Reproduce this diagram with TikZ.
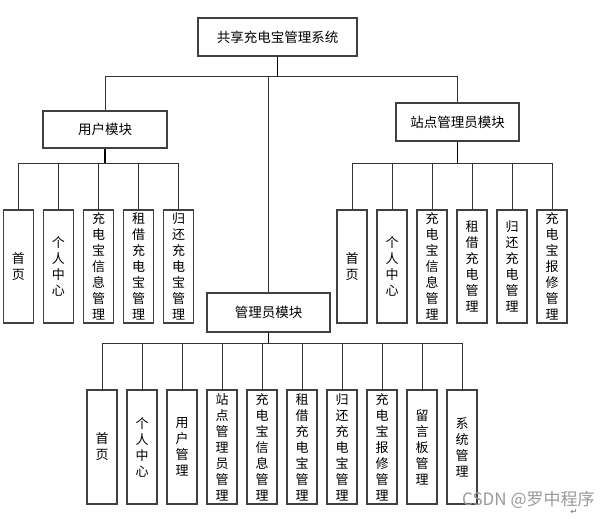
\documentclass[tikz,border=0pt]{standalone}
\usepackage{fontspec}
\setmainfont{Noto Sans CJK SC}
\newfontfamily\symfont{DejaVu Sans}
\usetikzlibrary{positioning}
\begin{document}
\begin{tikzpicture}[x=1pt,y=-1pt,
  modbox/.style={draw=black!75,line width=1.3pt,minimum width=123pt,minimum height=38pt,
    inner sep=0pt,font=\fontsize{13.5}{16}\selectfont},
  leaf/.style={draw=black!75,line width=1.3pt,minimum width=30pt,minimum height=113pt,
    inner sep=0pt,align=center,font=\fontsize{13}{16}\selectfont},
  link/.style={draw=black!80,line width=1pt},
  stem/.style={draw=black,line width=1.6pt}]
 \useasboundingbox (0,0) rectangle (614,519);
 % modules
 \node[modbox,minimum width=159pt] (root) at (277.5,37) {共享充电宝管理系统};
 \node[modbox,minimum width=124pt,minimum height=37pt] (user) at (105,129.5) {用户模块};
 \node[modbox] (station) at (457.5,122) {站点管理员模块};
 \node[modbox,minimum height=39pt] (admin) at (268.5,312.5) {管理员模块};
 % top level links
 \coordinate (rbus) at (0,77);
 \draw[stem] (root.south) -- (root.south |- rbus);
 \draw[link] (user.north) |- (station.north |- rbus) -- (station.north);
 \draw[link] (admin.north) -- (admin.north |- rbus);
 % user functions
 \draw[stem] (user.south) -- (user.south |- 0,163);
 \foreach \lab [count=\i from 0] in {{首\\页},{个\\人\\中\\心},{充\\电\\宝\\信\\息\\管\\理},
   {租\\借\\充\\电\\宝\\管\\理},{归\\还\\充\\电\\宝\\管\\理}}{
  \node[leaf] (u\i) at (18.5+40*\i,266.5) {\lab};
  \draw[link] (u\i.north) |- (user.south |- 0,163);
 }
 % station admin functions
 \draw[stem] (station.south) -- (station.south |- 0,163);
 \foreach \lab [count=\i from 0] in {{首\\页},{个\\人\\中\\心},{充\\电\\宝\\信\\息\\管\\理},
   {租\\借\\充\\电\\管\\理},{归\\还\\充\\电\\管\\理},{充\\电\\宝\\报\\修\\管\\理}}{
  \node[leaf] (s\i) at (352+40*\i,266.5) {\lab};
  \draw[link] (s\i.north) |- (station.south |- 0,163);
 }
 % admin functions
 \draw[stem] (admin.south) -- (admin.south |- 0,343);
 \foreach \lab [count=\i from 0] in {{首\\页},{个\\人\\中\\心},{用\\户\\管\\理},
   {站\\点\\管\\理\\员\\管\\理},{充\\电\\宝\\信\\息\\管\\理},{租\\借\\充\\电\\宝\\管\\理},
   {归\\还\\充\\电\\宝\\管\\理},{充\\电\\宝\\报\\修\\管\\理},{留\\言\\板\\管\\理},{系\\统\\管\\理}}{
  \node[leaf,minimum height=114pt] (a\i) at (102+40*\i,447) {\lab};
  \draw[link] (a\i.north) |- (admin.south |- 0,343);
 }
 % watermark
 \node[font=\fontsize{17}{17}\selectfont,text=black!40,anchor=base west,inner sep=0pt]
   (mark) at (462,505) {CSDN @罗中程序};
 \node[font=\symfont\fontsize{8}{8}\selectfont,text=black!60,inner sep=0pt] (ret) at (574,512) {↵};
\end{tikzpicture}
\end{document}
